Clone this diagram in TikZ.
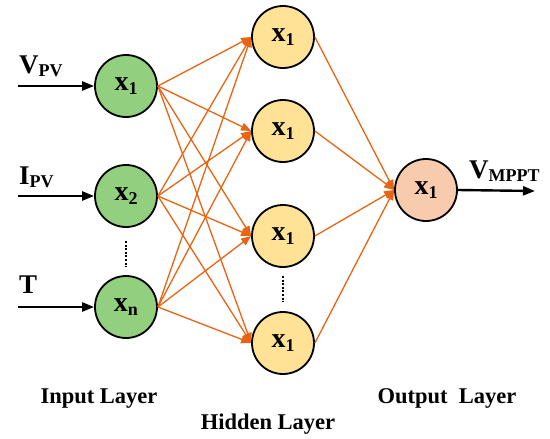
\documentclass[tikz,border=0pt]{standalone}
\usepackage{fontspec}
\setmainfont{Liberation Serif}
\usetikzlibrary{arrows.meta}
\definecolor{ngreen}{RGB}{146,208,128}
\definecolor{nyellow}{RGB}{255,226,150}
\definecolor{npeach}{RGB}{248,203,173}
\definecolor{conn}{RGB}{232,100,18}
\newcommand{\nsub}[1]{\raisebox{-4.5pt}{\fontsize{18}{18}\selectfont #1}}
\newcommand{\lsub}[1]{\raisebox{-3pt}{\fontsize{18}{18}\selectfont #1}}
\begin{document}
\begin{tikzpicture}[x=1pt,y=-1pt,
  neuron/.style={circle,draw=black,line width=1.8pt,minimum size=62pt,inner sep=0pt,font=\fontsize{28}{28}\selectfont\bfseries},
  inarrow/.style={line width=2.4pt,-{Triangle[length=12pt,width=9pt]}},
  link/.style={conn,line width=1.3pt,-{Triangle[length=10pt,width=8pt]}},
  lbl/.style={inner sep=0pt,anchor=base west,font=\fontsize{27}{27}\selectfont\bfseries},
  layer/.style={inner sep=0pt,anchor=base,font=\fontsize{22.5}{22.5}\selectfont\bfseries},
  dotline/.style={line width=1.8pt,dash pattern=on 2pt off 1.6pt}]
\useasboundingbox (0,0) rectangle (550,439);
% input layer
\node[neuron,fill=ngreen] (i1) at (126,86) {x\nsub{1}};
\node[neuron,fill=ngreen] (i2) at (126,196) {x\nsub{2}};
\node[neuron,fill=ngreen] (i3) at (126,307) {x\nsub{n}};
% hidden layer
\node[neuron,fill=nyellow] (h1) at (283,37) {x\nsub{1}};
\node[neuron,fill=nyellow] (h2) at (283,131) {x\nsub{1}};
\node[neuron,fill=nyellow] (h3) at (283,236) {x\nsub{1}};
\node[neuron,fill=nyellow] (h4) at (283,343) {x\nsub{1}};
% output
\node[neuron,fill=npeach] (o) at (426,190) {x\nsub{1}};
% dots
\draw[dotline] ([yshift=-13pt]i2.south) coordinate (d1a) -- ([yshift=8pt]i3.north) coordinate (d1b);
\draw[dotline] ([yshift=-8pt]h3.south) coordinate (d2a) -- ([yshift=9pt]h4.north) coordinate (d2b);
% input arrows
\coordinate (s1) at (18,86);
\coordinate (s2) at (18,196);
\coordinate (s3) at (18,307);
\draw[inarrow] (s1) -- (i1.west);
\draw[inarrow] (s2) -- (i2.west);
\draw[inarrow] (s3) -- (i3.west);
% connections
\foreach \a in {i1,i2,i3}
  \foreach \b in {h1,h2,h3,h4}
    \draw[link] (\a.east) -- (\b.west);
\foreach \b in {h1,h2,h3,h4}
  \draw[link] (\b.east) -- (o.west);
% output arrow
\coordinate (e) at (535,191);
\draw[inarrow] (o.east) -- (e);
% labels
\node[lbl] (lv) at (19,73) {V\lsub{PV}};
\node[lbl] (li) at (19,184) {I\lsub{PV}};
\node[lbl] (lt) at (19,293) {T};
\node[lbl] (lo) at (469,178) {V\lsub{MPPT}};
\node[layer] (l1) at (99,403) {Input Layer};
\node[layer] (l2) at (268,429) {Hidden Layer};
\node[layer] (l3) at (447,403) {Output\ \ Layer};
\end{tikzpicture}
\end{document}
